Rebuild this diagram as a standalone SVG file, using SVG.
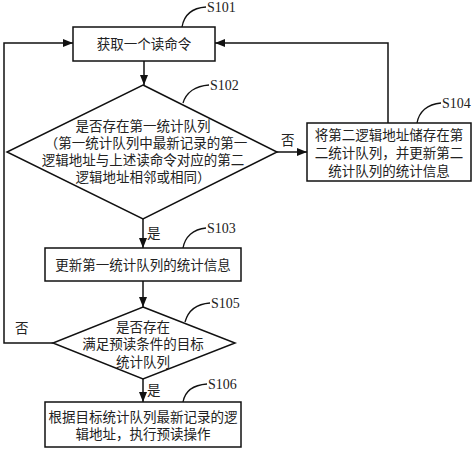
<svg xmlns="http://www.w3.org/2000/svg" width="474" height="450" viewBox="0 0 474 450">
<defs>
<marker id="ah" viewBox="0 0 10 8" refX="10" refY="4" markerWidth="10" markerHeight="8" markerUnits="userSpaceOnUse" orient="auto">
<path d="M0,0 L10,4 L0,8 Z" fill="#111"/>
</marker>
<style>
.box{fill:#fff;stroke:#111;stroke-width:1.5}
.ln{fill:none;stroke:#111;stroke-width:1.5}
.lead{fill:none;stroke:#111;stroke-width:1.3}
.t{font-family:"Liberation Serif","Noto Sans CJK SC",serif;font-size:13.5px;fill:#222;text-anchor:middle}
.s{font-family:"Liberation Serif",serif;font-size:14px;fill:#222}
.y{font-family:"Liberation Serif","Noto Sans CJK SC",serif;font-size:13.5px;fill:#222}
</style>
</defs>
<rect width="474" height="450" fill="#fff"/>
<g id="connectors">
<path class="ln" d="M144,61 V85" marker-end="url(#ah)"/>
<path class="ln" d="M277,152 H307" marker-end="url(#ah)"/>
<path class="ln" d="M388,123 V43 H215" marker-end="url(#ah)"/>
<path class="ln" d="M143,219 V248" marker-end="url(#ah)"/>
<path class="ln" d="M143,281 V307" marker-end="url(#ah)"/>
<path class="ln" d="M53,343 H4 V43 H73" marker-end="url(#ah)"/>
<path class="ln" d="M143,379 V402" marker-end="url(#ah)"/>
<text class="y" x="281" y="145">否</text>
<text class="y" x="147" y="238">是</text>
<text class="y" x="15" y="333">否</text>
<text class="y" x="147" y="395">是</text>
</g>
<g id="S101">
<rect class="box" x="73" y="27" width="142" height="34"/>
<text class="t" x="144" y="49">获取一个读命令</text>
<path class="lead" d="M182,27 C184,15 192,8 206,7"/>
<text class="s" x="207" y="12">S101</text>
</g>
<g id="S102">
<polygon class="box" points="143,85 277,152 143,219 7,152"/>
<text class="t" x="143" y="131">是否存在第一统计队列</text>
<text class="t" x="146" y="148">（第一统计队列中最新记录的第一</text>
<text class="t" x="143" y="165">逻辑地址与上述读命令对应的第二</text>
<text class="t" x="143" y="182">逻辑地址相邻或相同）</text>
<path class="lead" d="M183,103 C186,93 195,86 209,85"/>
<text class="s" x="210" y="90">S102</text>
</g>
<g id="S103">
<rect class="box" x="45" y="248" width="196" height="33"/>
<text class="t" x="143" y="270">更新第一统计队列的统计信息</text>
<path class="lead" d="M183,248 C185,237 193,229 206,228"/>
<text class="s" x="207" y="233">S103</text>
</g>
<g id="S104">
<rect class="box" x="307" y="123" width="164" height="58"/>
<text class="t" x="389" y="140">将第二逻辑地址储存在第</text>
<text class="t" x="389" y="158">二统计队列，并更新第二</text>
<text class="t" x="389" y="176">统计队列的统计信息</text>
<path class="lead" d="M417,123 C419,112 427,104 441,103"/>
<text class="s" x="442" y="108">S104</text>
</g>
<g id="S105">
<polygon class="box" points="143,307 235,343 143,379 53,343"/>
<text class="t" x="143" y="332">是否存在</text>
<text class="t" x="143" y="349">满足预读条件的目标</text>
<text class="t" x="143" y="367">统计队列</text>
<path class="lead" d="M185,322 C188,311 196,304 210,303"/>
<text class="s" x="211" y="308">S105</text>
</g>
<g id="S106">
<rect class="box" x="45" y="402" width="196" height="45"/>
<text class="t" x="143" y="422">根据目标统计队列最新记录的逻</text>
<text class="t" x="143" y="439">辑地址，执行预读操作</text>
<path class="lead" d="M183,402 C185,391 193,385 207,384"/>
<text class="s" x="208" y="389">S106</text>
</g>
</svg>
